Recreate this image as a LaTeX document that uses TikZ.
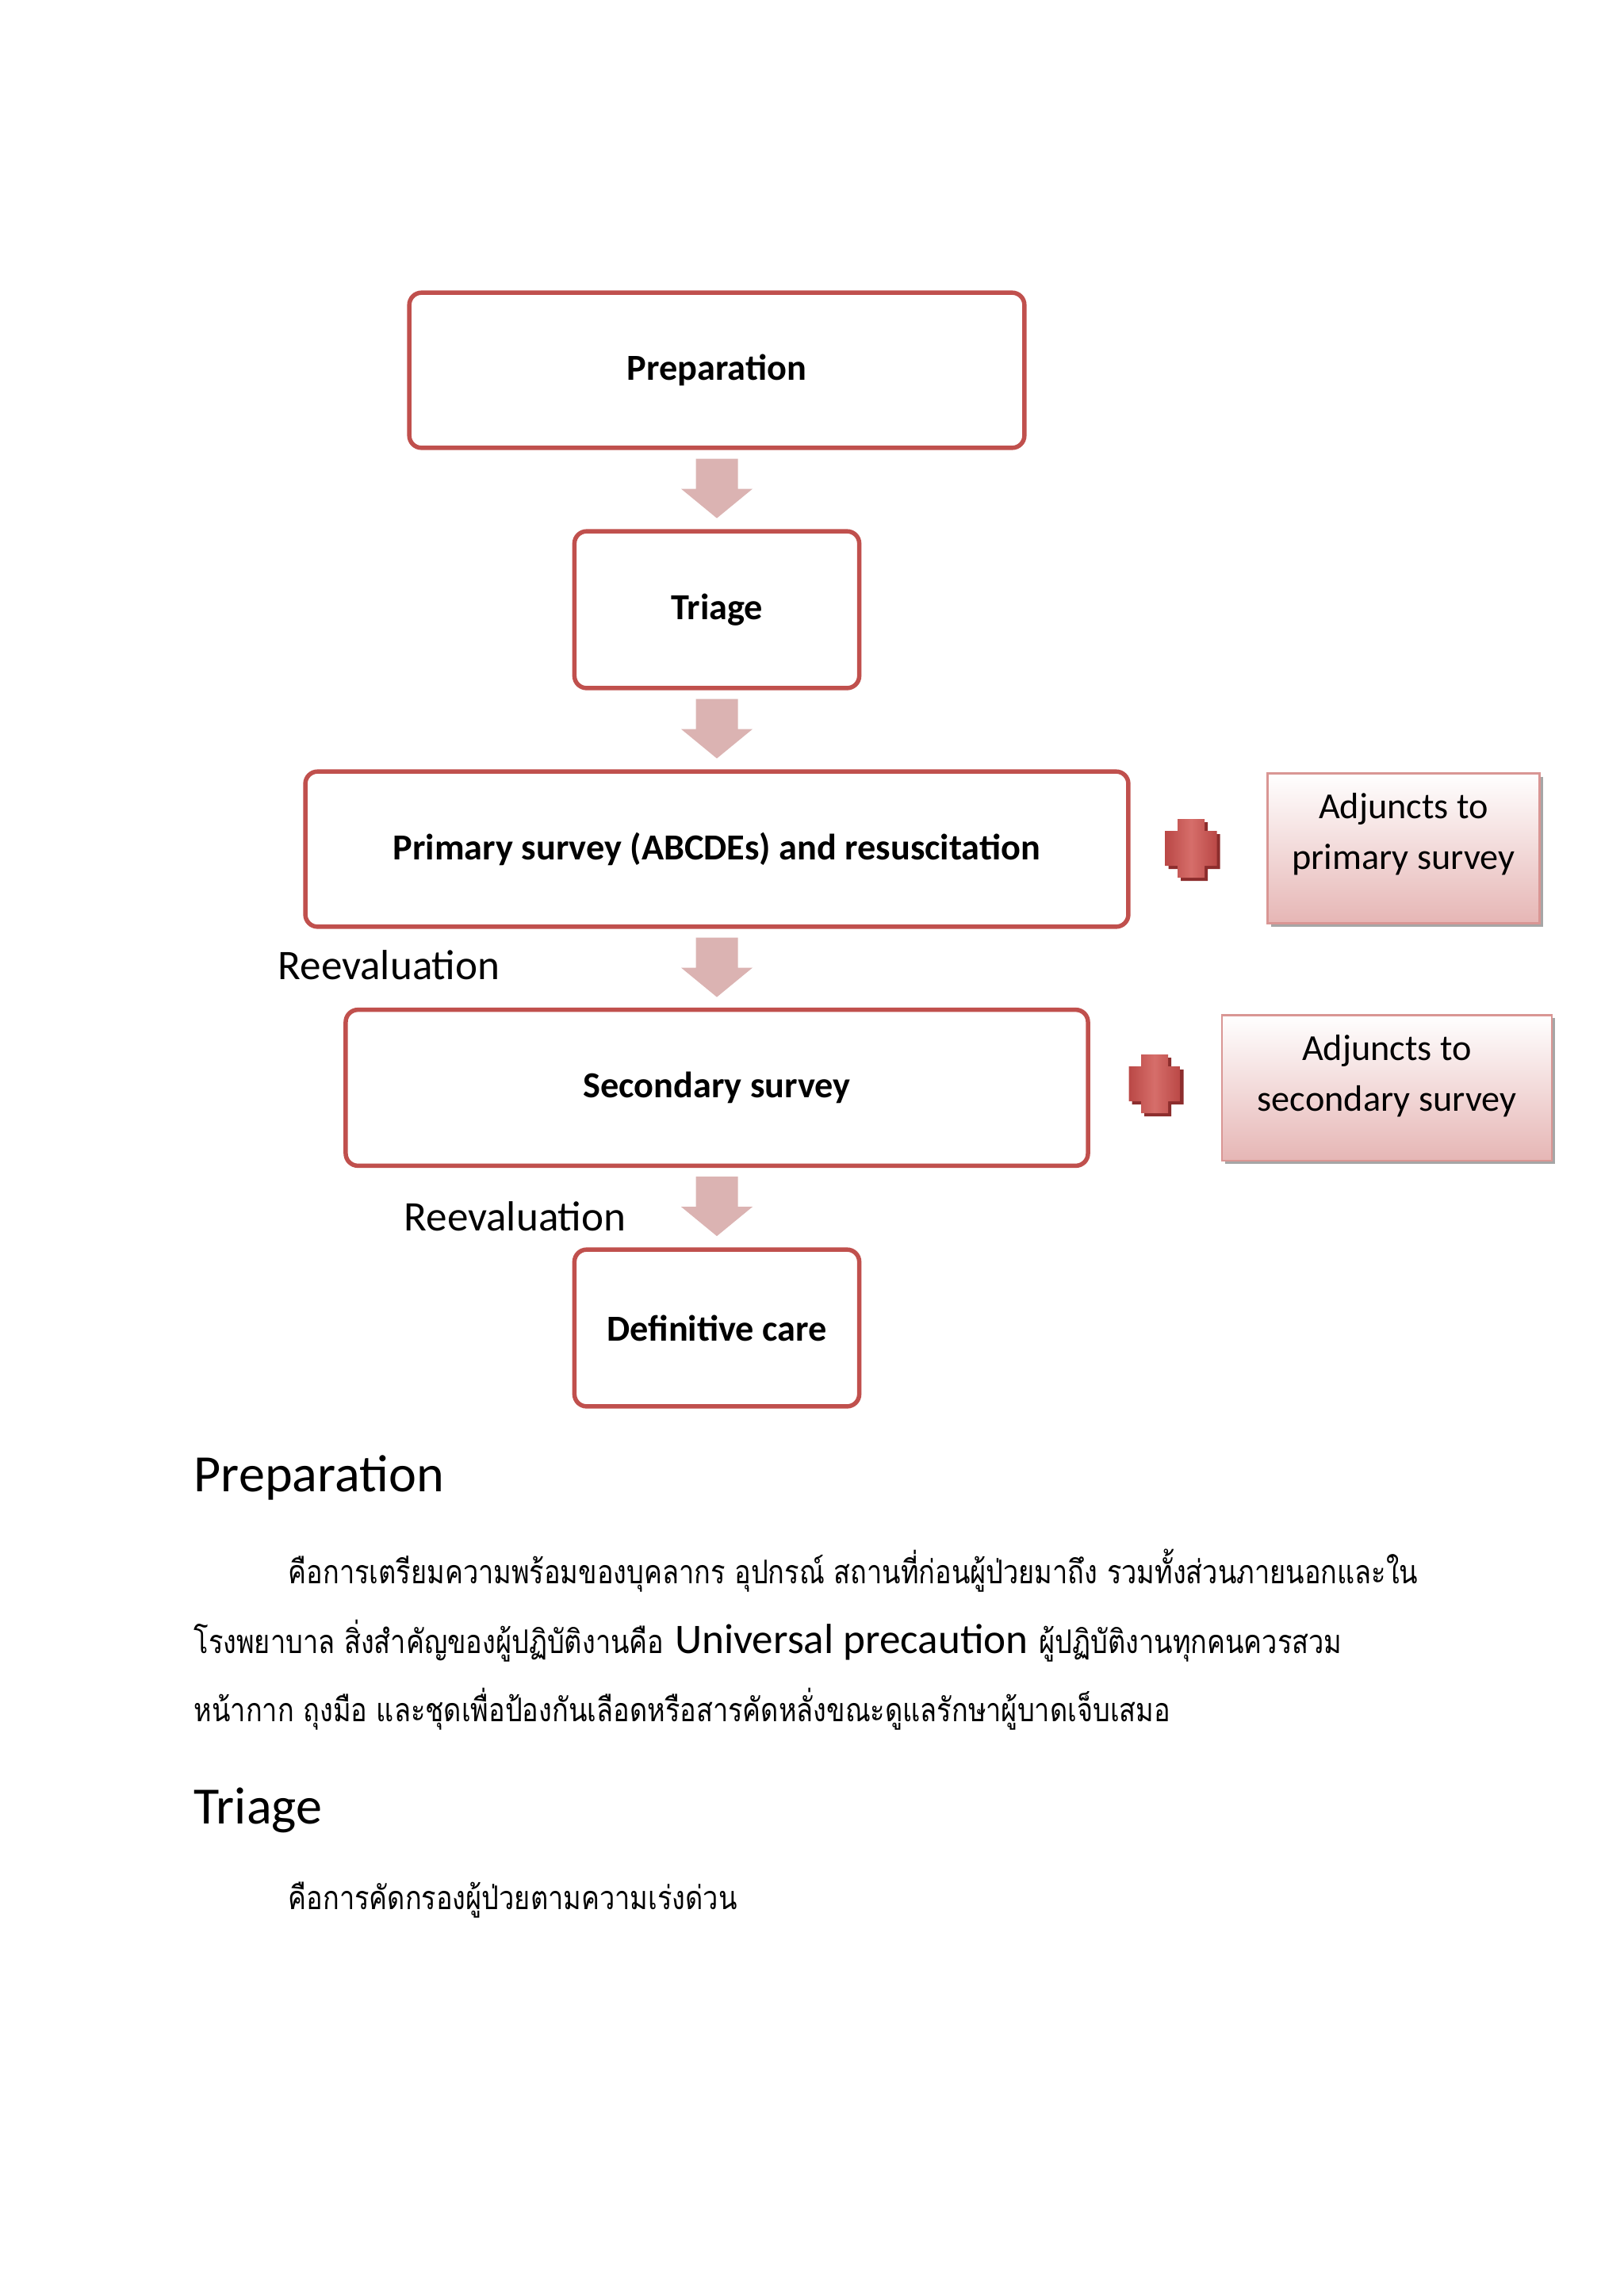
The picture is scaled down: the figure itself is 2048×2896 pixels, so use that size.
\documentclass[tikz,border=0pt]{standalone}
\usepackage{fontspec}
\setmainfont{Carlito}
\newfontfamily\thaifont[Script=Thai]{Loma}
\usetikzlibrary{calc,shadows}

\definecolor{boxred}{RGB}{192,80,77}
\definecolor{arrowpink}{RGB}{219,179,178}
\definecolor{adjpink}{RGB}{230,182,181}
\definecolor{adjborder}{RGB}{217,150,148}
\definecolor{pluslight}{RGB}{214,110,106}
\definecolor{plusred}{RGB}{186,72,70}
\definecolor{plusdark}{RGB}{140,45,45}

\tikzset{
  stage/.style={draw=boxred, line width=1.6pt, rounded corners=4.5pt, fill=white,
    align=center, font=\fontsize{13.5}{16}\selectfont\bfseries},
  adjunct/.style={draw=adjborder, line width=0.8pt, top color=white, bottom color=adjpink,
    drop shadow={shadow xshift=1.2pt, shadow yshift=-1.2pt, fill=black!35, opacity=1}},
  adjtext/.style={align=center, inner sep=0pt, font=\fontsize{13.5}{18.5}\selectfont},
  note/.style={anchor=base west, inner sep=0pt, font=\fontsize{15.5}{18}\selectfont},
  heading/.style={anchor=base west, inner sep=0pt, font=\fontsize{19.3}{23}\selectfont},
  thai/.style={anchor=base west, inner sep=0pt, font=\fontsize{12}{14}\selectfont\thaifont},
}

% Thai text is set narrower, as in the original
\newcommand{\thx}[1]{\scalebox{0.835}[1]{#1}}

% block arrow between two stages
\newcommand{\flowarrow}[1]{%
  \fill[arrowpink] ($(#1.south)+(-26.5,11)$) -- ($(#1.south)+(26.5,11)$)
    -- ($(#1.south)+(26.5,49)$) -- ($(#1.south)+(45,49)$) -- ($(#1.south)+(0,86)$)
    -- ($(#1.south)+(-45,49)$) -- ($(#1.south)+(-26.5,49)$) -- cycle;}

% red plus sign
\newcommand{\redplus}[1]{%
  \fill[plusdark] ($(#1)+(4,4)$) +(-17,-37) -- +(17,-37) -- +(17,-22) -- +(32.5,-22)
    -- +(32.5,22) -- +(17,22) -- +(17,37) -- +(-17,37) -- +(-17,22) -- +(-32.5,22)
    -- +(-32.5,-22) -- +(-17,-22) -- cycle;
  \shade[left color=plusred, right color=plusred, middle color=pluslight] (#1) +(-17,-37) -- +(17,-37) -- +(17,-22) -- +(32.5,-22)
    -- +(32.5,22) -- +(17,22) -- +(17,37) -- +(-17,37) -- +(-17,22) -- +(-32.5,22)
    -- +(-32.5,-22) -- +(-17,-22) -- cycle;}

\begin{document}
\begin{tikzpicture}[x=0.010254cm, y=-0.010254cm]
    \useasboundingbox (0,0) rectangle (2048,2896);

    \node[stage, minimum width=226.3pt, minimum height=57.1pt] (prep) at (904, 467) {Preparation};
    \node[stage, minimum width=104.8pt, minimum height=57.7pt] (triage) at (904, 769) {Triage};
    \node[stage, minimum width=302.8pt, minimum height=57.1pt] (primary) at (904, 1071) {Primary survey (ABCDEs) and resuscitation};
    \node[stage, minimum width=273.1pt, minimum height=57.4pt] (secondary) at (904, 1372) {Secondary survey};
    \node[stage, minimum width=104.8pt, minimum height=57.7pt] (definitive) at (904, 1675) {Definitive care};

    \flowarrow{prep}
    \flowarrow{triage}
    \flowarrow{primary}
    \flowarrow{secondary}

    \node[note] (reeval1) at (350, 1235) {Reevaluation};
    \node[note] (reeval2) at (509, 1552) {Reevaluation};

    \coordinate (plus1) at (1502, 1070);
    \coordinate (plus2) at (1456, 1367);
    \redplus{plus1}
    \redplus{plus2}

    \node[adjunct, minimum width=100.1pt, minimum height=55.2pt] (adjprimary) at (1770, 1070) {};
    \node[adjtext] (adjprimarytext) at (1770, 1052) {Adjuncts to\\primary survey};
    \node[adjunct, minimum width=121.3pt, minimum height=53.6pt] (adjsecondary) at (1749, 1372) {};
    \node[adjtext] (adjsecondarytext) at (1749, 1357) {Adjuncts to\\secondary survey};

    % text below the chart
    \node[heading] (hprep) at (244, 1881) {Preparation};
    \node[thai] (prep1) at (363, 1997) {\thx{คือการเตรียมความพร้อมของบุคลากร อุปกรณ์ สถานที่ก่อนผู้ป่วยมาถึง รวมทั้งส่วนภายนอกและใน}};
    \node[thai] (prep2) at (244, 2085) {\thx{โรงพยาบาล สิ่งสำคัญของผู้ปฏิบัติงานคือ} {\normalfont\fontsize{15.5}{18}\selectfont Universal precaution} \thx{ผู้ปฏิบัติงานทุกคนควรสวม}};
    \node[thai] (prep3) at (244, 2171) {\thx{หน้ากาก ถุงมือ และชุดเพื่อป้องกันเลือดหรือสารคัดหลั่งขณะดูแลรักษาผู้บาดเจ็บเสมอ}};
    \node[heading] (htriage) at (244, 2300) {Triage};
    \node[thai] (triage1) at (363, 2408) {\thx{คือการคัดกรองผู้ป่วยตามความเร่งด่วน}};
\end{tikzpicture}
\end{document}
